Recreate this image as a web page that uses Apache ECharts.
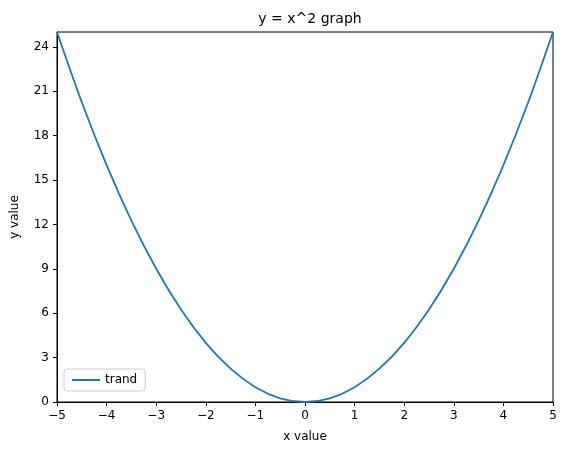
<!DOCTYPE html>
<html>
<head>
<meta charset="utf-8">
<script src="https://cdn.jsdelivr.net/npm/echarts@6/dist/echarts.min.js"></script>
<style>
html, body { margin: 0; padding: 0; background: #fff; }
#container { width: 567px; height: 455px; }
</style>
</head>
<body>
<div id="container"></div>
<script>
// values
var xValues = [-5, -4.5, -4, -3.5, -3, -2.5, -2, -1.5, -1, -0.5, 0, 0.5, 1, 1.5, 2, 2.5, 3, 3.5, 4, 4.5, 5];
var yValues = [25, 20.25, 16, 12.25, 9, 6.25, 4, 2.25, 1, 0.25, 0, 0.25, 1, 2.25, 4, 6.25, 9, 12.25, 16, 20.25, 25];
var seriesName = 'trand';

var chart = echarts.init(document.getElementById('container'));

var points = xValues.map(function (x, i) { return [x, yValues[i]]; });

function minusFmt(v) { return String(v).replace('-', '\u2212'); }

var axisCommon = {
    axisLine: { show: true, onZero: false, lineStyle: { color: '#000' } },
    axisTick: { show: true, inside: false, length: 4, lineStyle: { color: '#000' } },
    splitLine: { show: false },
    axisLabel: { color: '#000', fontSize: 12, fontFamily: 'DejaVu Sans', formatter: minusFmt }
};

var option = {
    title: {
        text: 'y = x^2 graph',
        left: 305, top: 7, textAlign: 'center',
        textStyle: { fontSize: 14, fontWeight: 'normal', color: '#000', fontFamily: 'DejaVu Sans' }
    },
    grid: { left: 57, right: 14, top: 32, bottom: 53, show: true, borderColor: '#000', borderWidth: 1 },
    legend: {
        data: [seriesName],
        left: 64, top: 369,
        backgroundColor: '#fff',
        borderColor: '#ccc', borderWidth: 1, borderRadius: 3,
        padding: [5, 8],
        icon: 'rect', itemWidth: 28, itemHeight: 2,
        textStyle: { color: '#000', fontSize: 12, fontFamily: 'DejaVu Sans' }
    },
    xAxis: Object.assign({
        type: 'value', min: -5, max: 5, interval: 1,
        name: 'x value', nameLocation: 'middle', nameGap: 29,
        nameTextStyle: { color: '#000', fontSize: 12, fontFamily: 'DejaVu Sans' }
    }, axisCommon),
    yAxis: Object.assign({
        type: 'value', min: 0, max: 25, interval: 3,
        name: 'y value', nameLocation: 'middle', nameGap: 36,
        nameTextStyle: { color: '#000', fontSize: 12, fontFamily: 'DejaVu Sans' }
    }, axisCommon, {
        axisLabel: { color: '#000', fontSize: 12, fontFamily: 'DejaVu Sans', showMaxLabel: false }
    }),
    series: [{
        name: seriesName,
        type: 'line',
        data: points,
        smooth: 0.3,
        showSymbol: false,
        animation: false,
        color: '#1f77b4',
        lineStyle: { color: '#1f77b4', width: 1.8 }
    }]
};
chart.setOption(option);
</script>
</body>
</html>
